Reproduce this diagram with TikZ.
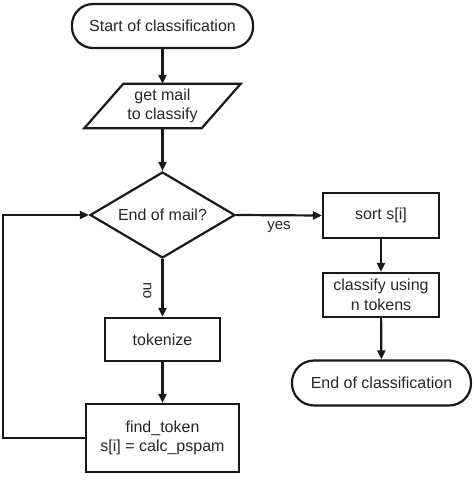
\documentclass[tikz,border=0pt]{standalone}
\usepackage{fontspec}
\setmainfont{Liberation Sans}
\usetikzlibrary{shapes.geometric,arrows.meta}
\begin{document}
\begin{tikzpicture}[x=1pt,y=-1pt,
  every node/.style={font=\fontsize{16}{19.5}\selectfont, text=black!85, align=center, inner sep=0pt},
  line/.style={line width=2.2pt, draw=black!90},
  arr/.style={line width=2.2pt, draw=black!90, -{Triangle[length=9pt,width=8pt]}},
  termbox/.style={draw=black!90, line width=2.2pt, rectangle, rounded corners=21pt},
  procbox/.style={draw=black!90, line width=2.2pt, rectangle},
  decbox/.style={draw=black!90, line width=2.2pt, diamond, minimum width=145pt, minimum height=86pt, aspect=1.69},
  lbl/.style={font=\fontsize{15}{18}\selectfont}
]
\useasboundingbox (0,0) rectangle (474,493);
\node[termbox, minimum width=181pt, minimum height=44pt] (start) at (162.5,26) {Start of classification};
\node[minimum width=117pt, minimum height=44pt] (get) at (162.5,106) {get mail\\to classify};
\draw[line, line join=miter] ([xshift=19.5pt]get.north west) -- ([xshift=19.5pt]get.north east) -- ([xshift=-19.5pt]get.south east) -- ([xshift=-19.5pt]get.south west) -- cycle;
\node[decbox] (dec) at (162.5,215) {End of mail?};
\node[procbox, minimum width=116pt, minimum height=45pt] (sort) at (381,215.5) {sort s[i]};
\node[procbox, minimum width=116pt, minimum height=44pt] (cls) at (381,295) {classify using\\n tokens};
\node[termbox, rounded corners=22pt, minimum width=179pt, minimum height=45pt] (end) at (381.5,383) {End of classification};
\node[procbox, minimum width=115pt, minimum height=43pt] (tok) at (162.5,339.5) {tokenize};
\node[procbox, minimum width=153pt, minimum height=68pt] (find) at (162.5,438) {find\_token\\s[i] = calc\_pspam};
\coordinate (lb) at (3,438);
\coordinate (lt) at (3,215);
\draw[arr] (start) -- (get.north);
\draw[arr] (get.south) -- (dec.north);
\draw[arr] (dec.east) -- node[lbl, below, yshift=-5pt] (yes) {yes} (sort.west);
\draw[arr] (dec.south) -- node[lbl, rotate=-90, anchor=north, inner sep=10pt, pos=0.55] (no) {no} (tok.north);
\draw[arr] (tok) -- (find);
\draw[arr] (sort) -- (cls);
\draw[arr] (cls) -- (end);
\draw[arr] (find.west) -- (lb) -- (lt) -- (dec.west);
\end{tikzpicture}
\end{document}
